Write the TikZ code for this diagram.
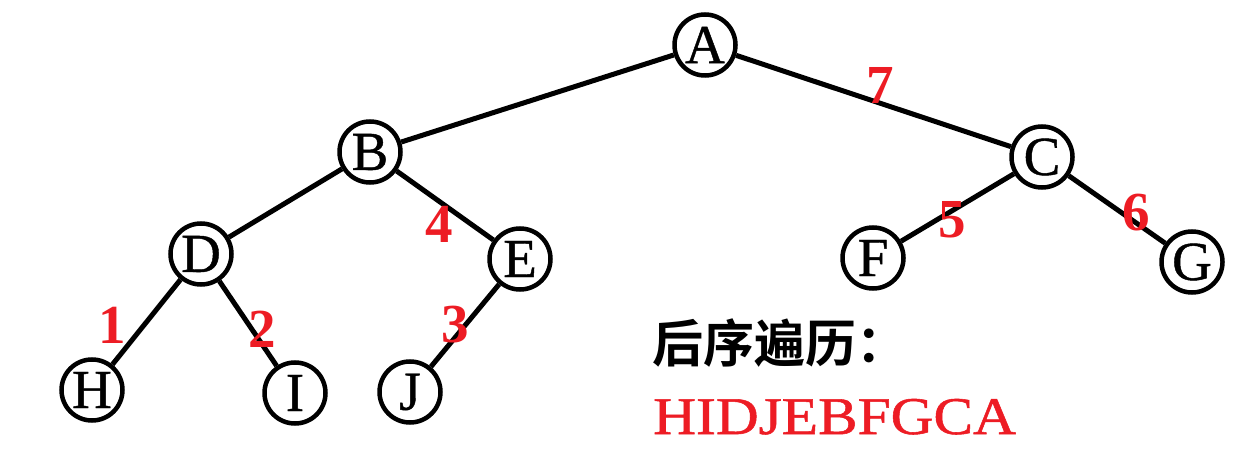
\documentclass[tikz,border=0pt]{standalone}
\usepackage{fontspec}
\setmainfont{Liberation Serif}
\newfontfamily\cjk{Noto Sans CJK SC}[BoldFont={Noto Sans CJK SC Bold}]
\newfontfamily\seqfont{Liberation Serif}[FakeStretch=1.12,FakeBold=1]
\newfontfamily\vtxfont{Liberation Serif}[FakeBold=0.8]
\definecolor{numred}{RGB}{237,28,36}
\begin{document}
\begin{tikzpicture}[x=1pt,y=-1pt,
  vtx/.style={circle,draw=black,line width=4.5pt,fill=white,minimum size=61pt,inner sep=0pt,
    font=\vtxfont\fontsize{55}{60}\selectfont},
  edge/.style={line width=5pt},
  num/.style={text=numred,font=\fontsize{55}{60}\selectfont\bfseries,inner sep=0pt}]
\useasboundingbox (0,0) rectangle (1260,462);
\node[vtx] (A) at (705,45) {A};
\node[vtx] (B) at (370,152) {B};
\node[vtx] (C) at (1042,157) {C};
\node[vtx] (D) at (201,254) {D};
\node[vtx] (E) at (520,259) {E};
\node[vtx] (F) at (873,258) {F};
\node[vtx] (G) at (1192,262) {G};
\node[vtx] (H) at (92,390) {H};
\node[vtx] (I) at (295,393) {I};
\node[vtx] (J) at (410,392) {J};
\draw[edge] (A) -- (B);
\draw[edge] (A) -- (C);
\draw[edge] (B) -- (D);
\draw[edge] (B) -- (E);
\draw[edge] (C) -- (F);
\draw[edge] (C) -- (G);
\draw[edge] (D) -- (H);
\draw[edge] (D) -- (I);
\draw[edge] (E) -- (J);
\node[num] (n7) at (880,85) {7};
\node[num] (n6) at (1136,213) {6};
\node[num] (n5) at (952,220) {5};
\node[num] (n4) at (439,224) {4};
\node[num] (n3) at (455,325) {3};
\node[num] (n2) at (262,329) {2};
\node[num] (n1) at (112,325) {1};
\node[anchor=west,inner sep=0pt,font=\cjk\bfseries\fontsize{51}{56}\selectfont] (title) at (652,343) {后序遍历：};
\node[anchor=base west,inner sep=0pt,text=numred,font=\seqfont\fontsize{53}{60}\selectfont] (seq) at (653,434) {HIDJEBFGCA};
\end{tikzpicture}
\end{document}
